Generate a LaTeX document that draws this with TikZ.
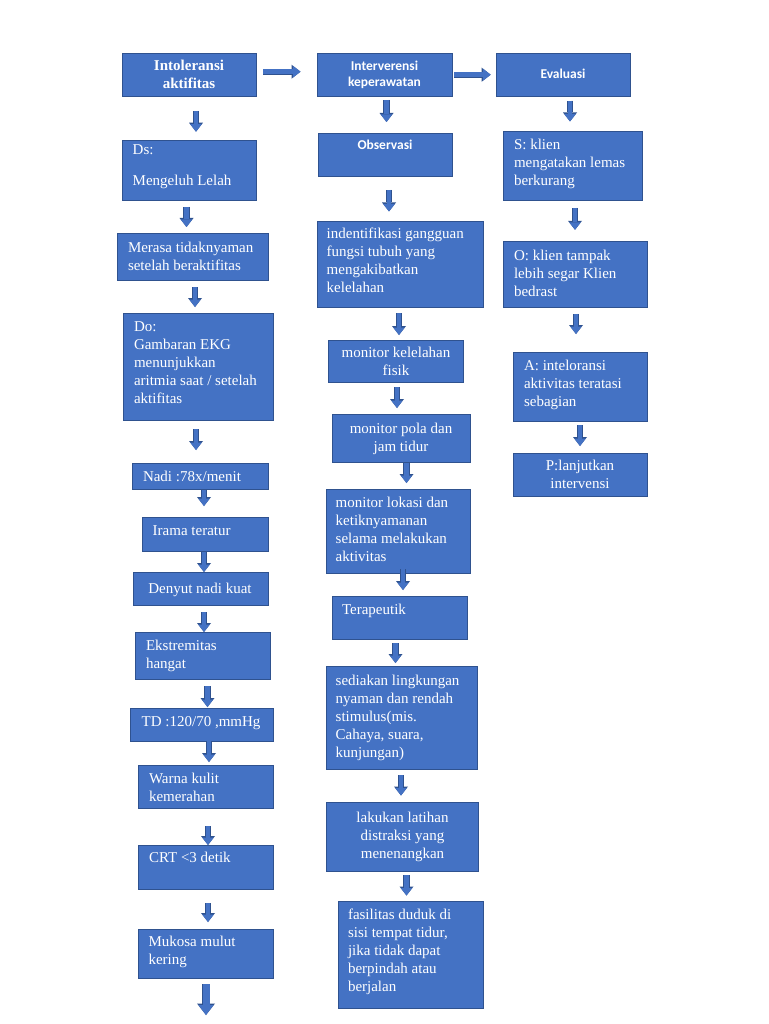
\documentclass[tikz,border=0pt]{standalone}
\usepackage{fontspec}
\setmainfont{Liberation Serif}
\newfontfamily\hdsans{Carlito}
\usetikzlibrary{arrows.meta}
\definecolor{bfill}{HTML}{4472C4}
\definecolor{bline}{HTML}{2F528F}
\tikzset{
  box/.style={draw=bline, fill=bfill, line width=0.8pt, inner sep=0pt, outer sep=0pt, rectangle},
  txt/.style={text=white, inner sep=0pt, outer sep=0pt, font=\fontsize{15}{18}\selectfont},
  hdserif/.style={text=white, inner sep=0pt, outer sep=0pt, font=\fontsize{15}{17.6}\selectfont\bfseries},
  hdsans/.style={text=white, inner sep=0pt, outer sep=0pt, font=\hdsans\fontsize{13.5}{16}\selectfont\bfseries},
  barrow/.style={line width=4.6pt, draw=bfill, -{Triangle[width=11.5pt,length=7.5pt,line width=0pt]},
    preaction={draw=bline, line width=6.2pt, -{Triangle[width=14pt,length=9pt,line width=0pt]}}},
  bigarrow/.style={line width=7pt, draw=bfill, -{Triangle[width=15pt,length=10pt,line width=0pt]},
    preaction={draw=bline, line width=8.6pt, -{Triangle[width=18pt,length=11.5pt,line width=0pt]}}},
}
\newcommand\bx[5]{\node[box, minimum width={(#4)-(#2)}, minimum height={(#5)-(#3)}] (#1) at ({((#2)+(#4))/2},{((#3)+(#5))/2}) {};}
\newcommand\tL[4]{\node[txt, anchor=base west] (#1) at (#2,#3) {\begin{tabular}[t]{@{}l@{}}#4\end{tabular}};}
\newcommand\tC[4]{\node[txt, anchor=base] (#1) at (#2,#3) {\begin{tabular}[t]{@{}c@{}}#4\end{tabular}};}
\newcommand\varr[5]{\draw[barrow, shorten <=#4pt, shorten >=#5pt] (#1.south -| #3,0) -- (#2.north -| #3,0);}
\newcommand\harr[5]{\draw[barrow, shorten <=#4pt, shorten >=#5pt] (#1.east |- 0,#3) -- (#2.west |- 0,#3);}
\begin{document}
\begin{tikzpicture}[x=1pt,y=-1pt]
\fill[white] (0,0) rectangle (768,1024);
\useasboundingbox (0,0) rectangle (768,1024);

% ---- boxes ----
\bx{intol}{122}{53}{256}{96}
\bx{ds}{122}{140}{256}{200.5}
\bx{mer}{117}{233}{268.5}{280}
\bx{dob}{123}{313}{273}{420}
\bx{nadi}{132.5}{463}{268.5}{489.5}
\bx{irama}{142}{517}{268.5}{551.5}
\bx{denyut}{133}{572}{268.5}{605}
\bx{eks}{135.5}{632}{270}{679}
\bx{td}{130.5}{708}{273}{741}
\bx{warna}{138}{765}{273}{808}
\bx{crt}{138}{845}{273}{889}
\bx{muk}{138}{929}{273}{978}

\bx{interv}{317.5}{53}{452}{96}
\bx{obs}{318}{133}{452}{176}
\bx{ident}{317}{221.5}{483}{307}
\bx{kel}{328}{340}{463}{382.5}
\bx{pola}{332}{414.5}{470.5}{462.5}
\bx{lok}{326}{489}{470.5}{573}
\bx{ter}{332}{596}{467}{639}
\bx{sed}{326}{666}{477}{769}
\bx{lak}{326}{802.5}{478}{871.5}
\bx{fas}{338}{901.5}{483}{1008}

\bx{eval}{496}{53}{630.5}{96}
\bx{evs}{503.5}{131.5}{642.5}{200.5}
\bx{evo}{503.5}{241.5}{647.5}{307.5}
\bx{eva}{513}{352}{647.5}{421}
\bx{evp}{513}{453}{647.5}{496.5}

% ---- texts ----
\node[hdserif, anchor=base] (t-intol) at (189,70.7) {\begin{tabular}[t]{@{}c@{}}Intoleransi\\aktifitas\end{tabular}};
\node[hdsans, anchor=base] (t-interv) at (384.5,70.7) {\begin{tabular}[t]{@{}c@{}}Interverensi\\keperawatan\end{tabular}};
\node[hdsans, anchor=base] (t-eval) at (563,78.3) {Evaluasi};
\node[hdsans, anchor=base] (t-obs) at (385,149.3) {Observasi};

\tL{t-ds}{132.7}{155}{Ds:\\[12.7pt]Mengeluh Lelah}
\tL{t-mer}{128}{252.7}{Merasa tidaknyaman\\setelah beraktifitas}
\tL{t-do}{134}{331}{Do:\\Gambaran EKG\\menunjukkan\\aritmia saat / setelah\\aktifitas}
\tL{t-nadi}{143}{481}{Nadi :78x/menit}
\tL{t-irama}{152.7}{535}{Irama teratur}
\tL{t-denyut}{148.3}{593}{Denyut nadi kuat}
\tL{t-eks}{146}{650}{Ekstremitas\\hangat}
\tL{t-td}{141.7}{726}{TD :120/70 ,mmHg}
\tL{t-warna}{149}{783}{Warna kulit\\kemerahan}
\tL{t-crt}{149}{862.7}{CRT <3 detik}
\tL{t-muk}{148.5}{946.7}{Mukosa mulut\\kering}

\tL{t-ident}{326.7}{238}{indentifikasi gangguan\\fungsi tubuh yang\\mengakibatkan\\kelelahan}
\tC{t-kel}{396}{357}{monitor kelelahan\\fisik}
\tC{t-pola}{401}{433}{monitor pola dan\\jam tidur}
\tL{t-lok}{335.7}{507}{monitor lokasi dan\\ketiknyamanan\\selama melakukan\\aktivitas}
\tL{t-ter}{342}{614}{Terapeutik}
\tL{t-sed}{335.7}{685}{sediakan lingkungan\\nyaman dan rendah\\stimulus(mis.\\Cahaya, suara,\\kunjungan)}
\tC{t-lak}{402.5}{822}{lakukan latihan\\distraksi yang\\menenangkan}
\tL{t-fas}{348}{919}{fasilitas duduk di\\sisi tempat tidur,\\jika tidak dapat\\berpindah atau\\berjalan}

\tL{t-evs}{514}{149.3}{S: klien\\mengatakan lemas\\berkurang}
\tL{t-evo}{514}{260}{O: klien tampak\\lebih segar Klien\\bedrast}
\tL{t-eva}{524}{370.7}{A: inteloransi\\aktivitas teratasi\\sebagian}
\tC{t-evp}{580}{470.7}{P:lanjutkan\\intervensi}

% ---- arrows ----
\harr{intol}{interv}{71.7}{7}{17}
\harr{interv}{eval}{74.7}{2}{5.3}

\varr{intol}{ds}{196}{15}{8.3}
\varr{ds}{mer}{186.5}{6.3}{6}
\varr{mer}{dob}{195}{7}{6}
\varr{dob}{nadi}{196}{9}{13}
\varr{nadi}{irama}{204}{0}{11}
\varr{irama}{denyut}{204}{0.5}{0}
\varr{denyut}{eks}{204}{7}{0}
\varr{eks}{td}{207.5}{7}{1}
\varr{td}{warna}{209}{0}{3}
\varr{warna}{crt}{208}{18}{0}
\varr{crt}{muk}{208}{14}{7}
\coordinate (mend) at (206,1015);
\draw[bigarrow, shorten <=6pt] (muk.south -| 206,0) -- (mend);

\varr{interv}{obs}{386.5}{4}{11}
\varr{obs}{ident}{389}{14}{10}
\varr{ident}{kel}{399}{6}{5}
\varr{kel}{pola}{397}{4.5}{6.5}
\varr{pola}{lok}{406.5}{0.5}{6}
\varr{lok}{ter}{403}{-4}{6}
\varr{ter}{sed}{395.5}{4}{3}
\varr{sed}{lak}{401}{6}{7}
\varr{lak}{fas}{406.5}{3.5}{6}

\varr{eval}{evs}{570}{4.7}{10}
\varr{evs}{evo}{575}{7.3}{11.7}
\varr{evo}{eva}{576}{6.3}{18}
\varr{eva}{evp}{580}{4}{7}
\end{tikzpicture}
\end{document}
